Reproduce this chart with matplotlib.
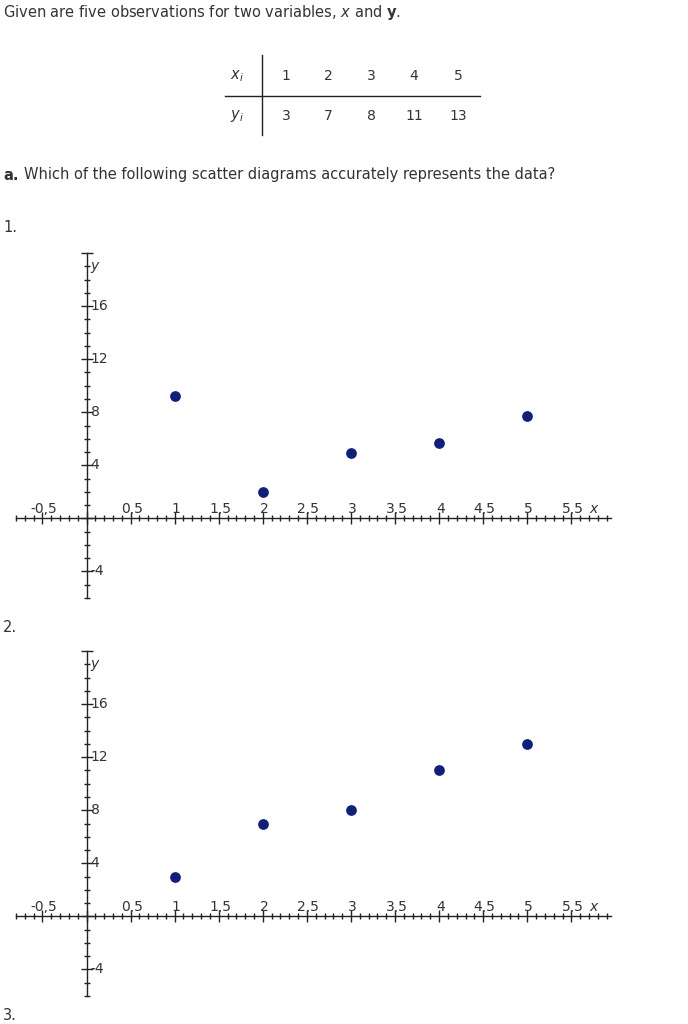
import matplotlib
matplotlib.use("Agg")
import matplotlib.pyplot as plt
import numpy as np
from matplotlib.ticker import MultipleLocator

x_obs = [1, 2, 3, 4, 5]
y_obs = [3, 7, 8, 11, 13]
y_plot1 = [9.2, 2.0, 4.9, 5.7, 7.7]
x_ticklabels = [-0.5, 0.5, 1, 1.5, 2, 2.5, 3, 3.5, 4, 4.5, 5, 5.5]
y_ticklabels = [-4, 4, 8, 12, 16]

W, H = 688, 1024
fig = plt.figure(figsize=(W/100, H/100), dpi=100)
fc = '#333333'

def ft(x, y, s, **kw):
    kw.setdefault('color', fc)
    kw.setdefault('fontsize', 10.5)
    fig.text(x/W, 1-y/H, s, va='center', **kw)

ft(3, 12, r"Given are five observations for two variables, $x$ and $\mathbf{y}$.")
# table
ft(237, 76, r"$x_i$", ha='center')
ft(237, 116, r"$y_i$", ha='center')
for xp, a, b in zip([286, 328, 371, 414, 458], x_obs, y_obs):
    ft(xp, 76, str(a), ha='center', fontsize=10)
    ft(xp, 116, str(b), ha='center', fontsize=10)
fig.add_artist(plt.Line2D([262/W, 262/W], [1-55/H, 1-135/H], color='#222', lw=1))
fig.add_artist(plt.Line2D([225/W, 480/W], [1-96/H, 1-96/H], color='#222', lw=1))
ft(3, 175, "a.", fontweight='bold')
ft(24, 175, "Which of the following scatter diagrams accurately represents the data?")
ft(3, 227, "1.")
ft(3, 627, "2.")
ft(3, 1015, "3.")

def fmt(v):
    return f"{v:g}".replace('.', ',')

def make(ytop_px, yvals):
    x0, x1 = -0.8, 5.95
    y0, y1 = -6, 20
    left = 16; right = 611
    top = ytop_px; bottom = ytop_px + 345
    ax = fig.add_axes([left/W, 1-bottom/H, (right-left)/W, (bottom-top)/H])
    ax.set_xlim(x0, x1); ax.set_ylim(y0, y1)
    ax.patch.set_alpha(0)
    for s in ['top', 'right']:
        ax.spines[s].set_visible(False)
    ax.spines['left'].set_position(('data', 0))
    ax.spines['bottom'].set_position(('data', 0))
    for s in ['left', 'bottom']:
        ax.spines[s].set_color('#222'); ax.spines[s].set_linewidth(1)
    ax.xaxis.set_major_locator(MultipleLocator(0.5))
    ax.xaxis.set_minor_locator(MultipleLocator(0.1))
    ax.yaxis.set_major_locator(MultipleLocator(4))
    ax.yaxis.set_minor_locator(MultipleLocator(1))
    ax.tick_params(which='both', direction='inout', labelbottom=False, labelleft=False, color='#222')
    ax.tick_params(which='major', length=8, width=1)
    ax.tick_params(which='minor', length=4, width=1)
    for v in x_ticklabels:
        ax.annotate(fmt(v), (v, 0), xytext=(1, 2), textcoords='offset points',
                    ha='center', va='bottom', fontsize=10, color=fc)
    ax.annotate('x', (5.75, 0), xytext=(0, 2), textcoords='offset points',
                ha='center', va='bottom', fontsize=10, color=fc, style='italic')
    for v in y_ticklabels:
        ax.annotate(str(v), (0, v), xytext=(3, 0), textcoords='offset points',
                    ha='left', va='center', fontsize=10, color=fc)
    ax.annotate('y', (0, 19), xytext=(3, 0), textcoords='offset points',
                ha='left', va='center', fontsize=10, color=fc, style='italic')
    ax.scatter(x_obs, yvals, s=45, color='#0f1f80', zorder=5)

make(253, y_plot1)
make(651, y_obs)
fig.savefig('out.png', dpi=100)
